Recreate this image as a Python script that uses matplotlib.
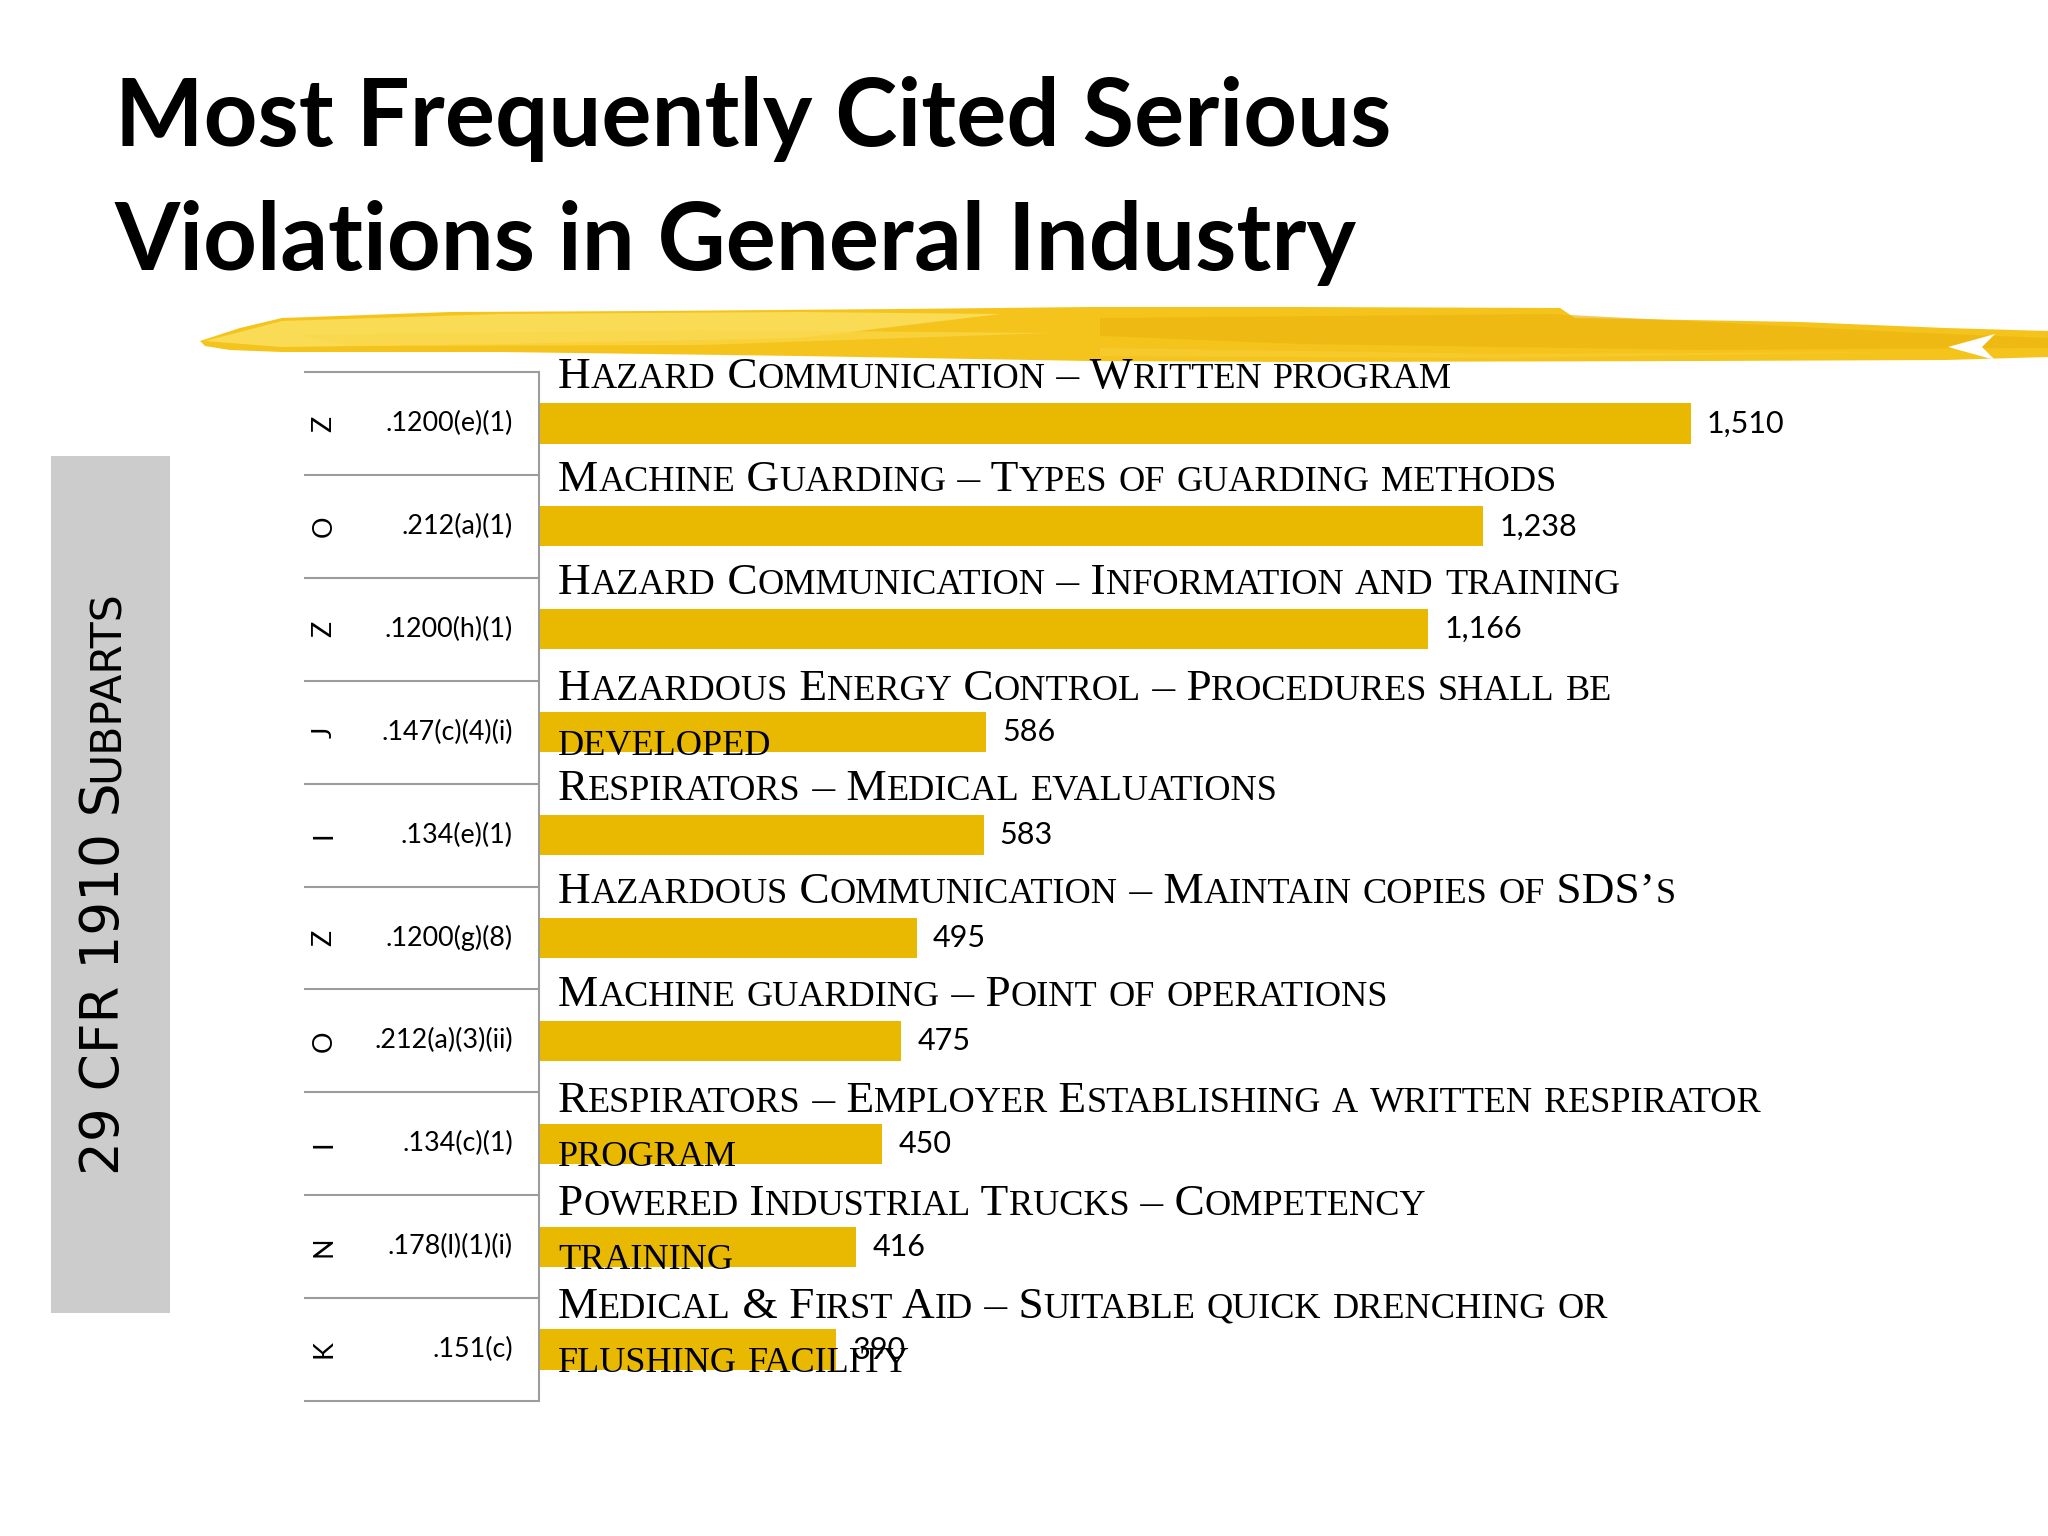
import matplotlib
matplotlib.use('Agg')
import matplotlib.pyplot as plt
from matplotlib import font_manager
from matplotlib.font_manager import FontProperties
from matplotlib.transforms import IdentityTransform, blended_transform_factory
from matplotlib.patches import Polygon, Rectangle
import numpy as np

W, H = 2048, 1536

# ---- data ----
title_lines = ['Most Frequently Cited Serious', 'Violations in General Industry']
side_label = '29 CFR 1910 Subparts'
subparts = ['Z', 'O', 'Z', 'J', 'I', 'Z', 'O', 'I', 'N', 'K']
sections = ['.1200(e)(1)', '.212(a)(1)', '.1200(h)(1)', '.147(c)(4)(i)', '.134(e)(1)',
            '.1200(g)(8)', '.212(a)(3)(ii)', '.134(c)(1)', '.178(l)(1)(i)', '.151(c)']
violations = [
    ['Hazard Communication – Written program'],
    ['Machine Guarding – Types of guarding methods'],
    ['Hazard Communication – Information and training'],
    ['Hazardous Energy Control – Procedures shall be', 'developed'],
    ['Respirators – Medical evaluations'],
    ['Hazardous Communication – Maintain copies of SDS’s'],
    ['Machine guarding – Point of operations'],
    ['Respirators – Employer Establishing a written respirator', 'program'],
    ['Powered Industrial Trucks – Competency', 'training'],
    ['Medical & First Aid – Suitable quick drenching or', 'flushing facility'],
]
citations = [1510, 1238, 1166, 586, 583, 495, 475, 450, 416, 390]

BAR = '#E8B900'
LINE = '#9C9C9C'
SERIF = 'Liberation Serif'
SANS = 'Lato'
names = {f.name for f in font_manager.fontManager.ttflist}
NARROW = 'Liberation Sans Narrow' if 'Liberation Sans Narrow' in names else 'DejaVu Sans'

fig = plt.figure(figsize=(W / 100, H / 100), dpi=100)
fig.patch.set_facecolor('white')
PIX = IdentityTransform()
renderer = fig.canvas.get_renderer()


def ink(s, prop):
    return renderer.get_text_width_height_descent(s, prop, ismath=False)[0]


def advance(s, family, size, weight='normal'):
    # pen advance in pixels as matplotlib renders it (kerning + hinting included)
    prop = FontProperties(family=family, size=size, weight=weight)
    return ink('|' + s + '|', prop) - ink('||', prop)


def caps_runs(s):
    runs = []
    for c in s:
        small = c.islower()
        ch = c.upper() if small else c
        if runs and runs[-1][1] == small:
            runs[-1][0] += ch
        else:
            runs.append([ch, small])
    return runs


def smallcaps(x, y, s, size, family, ratio=0.8, rotation=0, draw=True):
    pos = 0
    for text, small in caps_runs(s):
        fs = size * ratio if small else size
        if draw:
            if rotation == 0:
                fig.text(x + pos, y, text, transform=PIX, fontsize=fs, family=family,
                         ha='left', va='baseline', color='black')
            else:
                fig.text(x, y + pos, text, transform=PIX, fontsize=fs, family=family,
                         ha='left', va='baseline', rotation=90, rotation_mode='anchor',
                         color='black')
        pos += advance(text, family, fs)
    return pos


def band(points, **kw):
    fig.add_artist(Polygon([(x, H - y) for x, y in points], closed=True, transform=PIX,
                           edgecolor='none', zorder=1, **kw))


# ---- brush stroke under the title ----
band([(200, 341), (240, 328), (282, 318), (450, 312), (650, 311), (900, 309), (1090, 307),
      (1300, 307), (1560, 308), (1575, 318), (1800, 322), (1946, 328), (2048, 331),
      (2048, 357), (1946, 360), (1700, 361), (1300, 362), (1090, 361), (800, 356),
      (500, 352), (282, 352), (230, 350), (205, 346)], facecolor='#F5C41C')
band([(205, 341), (282, 321), (500, 314), (800, 312), (1000, 314), (800, 338), (500, 344),
      (282, 347)], facecolor='#FCE164', alpha=0.8)
band([(300, 335), (700, 330), (1050, 333), (700, 345), (350, 346)],
     facecolor='#F9D84A', alpha=0.7)
band([(1100, 318), (1550, 314), (1900, 332), (2048, 338), (2048, 348), (1700, 350),
      (1300, 344), (1100, 336)], facecolor='#ECB50F', alpha=0.7)
band([(1100, 348), (1500, 354), (1900, 352), (1500, 358), (1100, 356)],
     facecolor='#F8CE38', alpha=0.6)
band([(1995, 334), (1948, 347), (1995, 360), (1982, 347)], facecolor='white')

# ---- title ----
t_size = 60 * 1275 / advance(title_lines[0], SANS, 60, 'bold')
for line, base in zip(title_lines, [146, 270]):
    fig.text(115, H - base, line, transform=PIX, fontsize=t_size, family=SANS,
             fontweight='bold', ha='left', va='baseline', color='black')

# ---- grey side panel ----
fig.add_artist(Rectangle((51, H - 1313), 119, 857, transform=PIX, facecolor='#CCCCCC',
                         edgecolor='none', zorder=1))
s_size = 40 * 585 / smallcaps(0, 0, side_label, 40, NARROW, draw=False)
smallcaps(119, H - 1175, side_label, s_size, NARROW, rotation=90)

# ---- bar chart ----
n = len(citations)
ax = fig.add_axes([539 / W, (H - 1401) / H, (W - 539) / W, (1401 - 372) / H])
ax.set_xlim(0, (W - 539) / 0.7628)
ax.set_ylim(n, 0)
ax.axis('off')

rows = np.arange(n) + 0.5
ax.barh(rows, citations, height=0.39, color=BAR, zorder=2)

# table lines
tr = blended_transform_factory(PIX, ax.transData)
for i in range(n + 1):
    ax.plot([304, 539], [i, i], transform=tr, color=LINE, lw=1.5, clip_on=False,
            solid_capstyle='butt')
ax.plot([0, 0], [0, n], color=LINE, lw=1.5, clip_on=False)

c_size = 20 * 127 / advance(sections[0], SANS, 20)
v_size = 20 * 78 / advance(f'{citations[0]:,}', SANS, 20)
for y, letter, code in zip(rows, subparts, sections):
    ax.text(324, y, letter, transform=tr, fontsize=c_size, family=SANS, rotation=90,
            ha='center', va='center')
    ax.text(513, y, code, transform=tr, fontsize=c_size, family=SANS, ha='right', va='center')

for y, v in zip(rows, citations):
    ax.annotate(f'{v:,}', xy=(v, y), xytext=(16, 0), textcoords='offset pixels',
                fontsize=v_size, family=SANS, ha='left', va='center', zorder=5)

# violation descriptions in small caps
l_size = 30 * 896 / smallcaps(0, 0, violations[0][0], 30, SERIF, draw=False)
for i, lines in enumerate(violations):
    fracs = [0.16] if len(lines) == 1 else [0.19, 0.72]
    for line, f in zip(lines, fracs):
        yd = ax.transData.transform((0, i + f))[1]
        smallcaps(558, yd, line, l_size, SERIF)

fig.savefig('out.png', dpi=100, facecolor='white')
